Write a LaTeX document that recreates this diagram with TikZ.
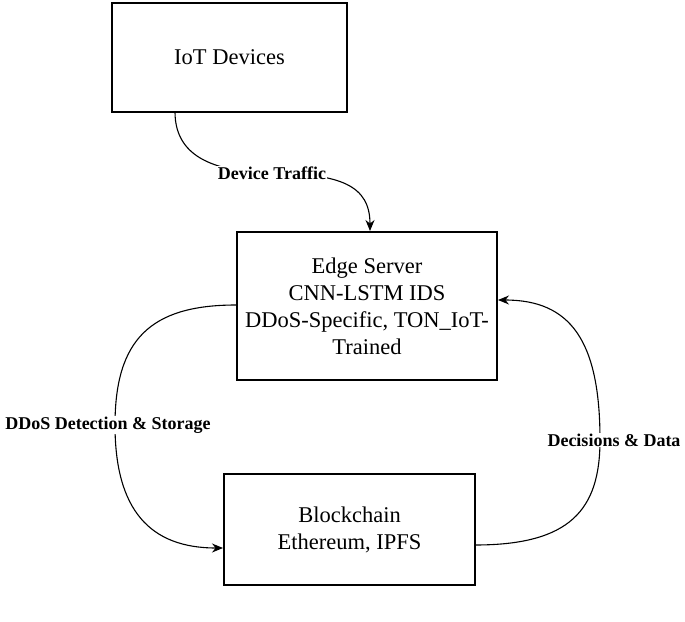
\documentclass[tikz,border=0pt]{standalone}
\usepackage{fontspec}
\setmainfont{Liberation Serif}
\usetikzlibrary{arrows.meta}
\begin{document}
\begin{tikzpicture}[x=1pt,y=1pt,
  box/.style={draw,line width=2.2pt,align=center,font=\fontsize{22.5}{27}\selectfont,inner sep=0},
  lab/.style={fill=white,font=\bfseries\fontsize{18}{21}\selectfont,inner sep=1pt},
  arr/.style={line width=1.1pt,-{Stealth[length=11pt,width=9pt]}}]
\useasboundingbox (0,0) rectangle (685,-621);
\node[box,minimum width=235,minimum height=109] (iot) at (229.5,-57.5) {IoT Devices};
\node[box,minimum width=260,minimum height=148] (edge) at (367,-306) {Edge Server\\CNN-LSTM IDS\\DDoS-Specific, TON\_IoT-\\Trained};
\node[box,minimum width=251,minimum height=111] (bc) at (349.5,-529.5) {Blockchain\\Ethereum, IPFS};
\coordinate (a1) at (175,-112);
\coordinate (a2) at (370,-231);
\coordinate (l1) at (236,-305);
\coordinate (l2) at (223,-548);
\coordinate (r1) at (475,-545);
\coordinate (r2) at (498,-300);
\draw[arr] (a1) .. controls (175,-160) and (220,-172) .. (272,-173) .. controls (340,-174) and (370,-185) .. (a2);
\node[lab] (dt) at (272,-173) {Device Traffic};
\draw[arr] (l1) .. controls (150,-305) and (115,-340) .. (115,-425) .. controls (115,-510) and (150,-548) .. (l2);
\node[lab] (dd) at (108,-425) {DDoS Detection \& Storage};
\draw[arr] (r1) .. controls (570,-545) and (600,-510) .. (600,-440) .. controls (600,-340) and (570,-300) .. (r2);
\node[lab] (dc) at (614,-440) {Decisions \& Data};
\end{tikzpicture}
\end{document}
